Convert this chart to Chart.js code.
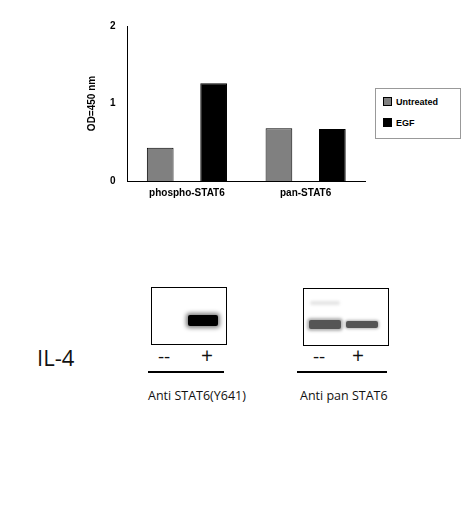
<!DOCTYPE html>
<html><head><meta charset="utf-8">
<script src="https://cdn.jsdelivr.net/npm/chart.js@4"></script>
<style>
body{margin:0;background:#fff;font-family:"Liberation Sans",Arial,sans-serif;}
#wrap{position:relative;width:474px;height:516px;}
#chartBox{position:absolute;left:82px;top:12px;width:288px;height:193px;}
#legend{position:absolute;left:375px;top:88px;width:84px;height:49px;border:1px solid #999;font-size:9px;font-weight:bold;}
#legend div{position:absolute;left:7px;}
#legend span{display:inline-block;width:7px;height:7px;border:1px solid #000;margin-right:4px;vertical-align:-1px;}
.blot{position:absolute;border:1.5px solid #000;background:#fff;overflow:hidden;}
.band{position:absolute;border-radius:2px;}
.t{position:absolute;font-family:"Open Sans","Liberation Sans",sans-serif;color:#111;}
.ln{position:absolute;height:1.5px;background:#000;}
</style></head><body>
<div id="wrap">
<div id="chartBox"><canvas id="c"></canvas></div>
<div id="legend">
 <div style="top:8px"><span style="background:#808080"></span>Untreated</div>
 <div style="top:29px"><span style="background:#000"></span>EGF</div>
</div>

<div class="t" style="left:37px;top:342px;font-size:22px;">IL-4</div>

<div class="blot" style="left:151px;top:287px;width:74px;height:56px;">
 <div class="band" style="left:36px;top:27px;width:30px;height:11px;background:#000;box-shadow:0 0 4px 2px rgba(0,0,0,0.5);"></div>
</div>
<div class="t" style="left:158px;top:343px;font-size:19px;">--</div>
<div class="t" style="left:201px;top:341px;font-size:21px;">+</div>
<div class="ln" style="left:148px;top:371px;width:76px;"></div>
<div class="t" style="left:148px;top:387px;font-size:12.5px;">Anti STAT6(Y641)</div>

<div class="blot" style="left:303px;top:288px;width:84px;height:56px;">
 <div class="band" style="left:6px;top:12px;width:30px;height:4px;background:#e4e4e4;filter:blur(1.5px);"></div>
 <div class="band" style="left:5px;top:31px;width:32px;height:9px;background:#555;box-shadow:0 0 3px 2px rgba(0,0,0,0.3);"></div>
 <div class="band" style="left:42px;top:32px;width:32px;height:7px;background:#555;box-shadow:0 0 3px 1px rgba(0,0,0,0.3);"></div>
</div>
<div class="t" style="left:313px;top:343px;font-size:19px;">--</div>
<div class="t" style="left:352px;top:341px;font-size:21px;">+</div>
<div class="ln" style="left:297px;top:371px;width:90px;"></div>
<div class="t" style="left:300px;top:387px;font-size:12.5px;">Anti pan STAT6</div>
</div>
<script>
const categories = ["phospho-STAT6", "pan-STAT6"];
const untreated = [0.43, 0.68];
const egf = [1.26, 0.67];
const yTicks = [0, 1, 2];

new Chart(document.getElementById("c").getContext("2d"), {
  type: "bar",
  data: {
    labels: categories,
    datasets: [
      { label: "Untreated", data: untreated, backgroundColor: "#808080", borderColor: "#000", borderWidth: 1, barPercentage: 0.5, categoryPercentage: 0.9 },
      { label: "EGF", data: egf, backgroundColor: "#000", borderColor: "#000", borderWidth: 1, barPercentage: 0.5, categoryPercentage: 0.9 }
    ]
  },
  options: {
    responsive: true, maintainAspectRatio: false, animation: false,
    layout: { padding: { top: 8, right: 5 } },
    plugins: { legend: { display: false }, tooltip: { enabled: false } },
    scales: {
      x: {
        grid: { display: false, drawTicks: false },
        border: { color: "#000" },
        ticks: { color: "#000", font: { size: 10, weight: "bold", family: "Liberation Sans" }, padding: 6 }
      },
      y: {
        min: 0, max: 2,
        afterBuildTicks: a => { a.ticks = yTicks.map(v => ({ value: v })); },
        grid: { display: false, drawOnChartArea: false, drawTicks: true, tickLength: 4, tickColor: "#000" },
        border: { color: "#000" },
        ticks: { color: "#000", font: { size: 10, weight: "bold", family: "Liberation Sans" }, padding: 8 },
        title: { display: true, text: "OD=450 nm", color: "#000", font: { size: 10, weight: "bold", family: "Liberation Sans" } }
      }
    }
  }
});
</script>
</body></html>
